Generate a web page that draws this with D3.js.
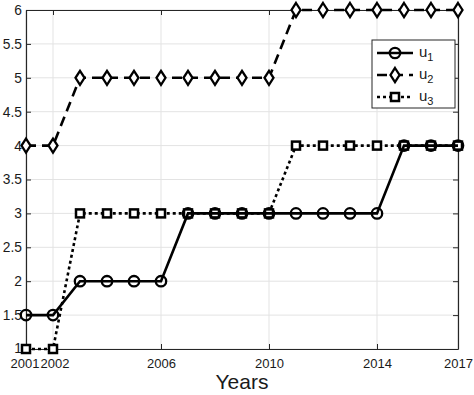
<!DOCTYPE html>
<html><head><meta charset="utf-8">
<script src="https://cdn.jsdelivr.net/npm/d3@7"></script>
<style>body{margin:0;background:#fff}svg{display:block}text{font-family:"Liberation Sans",Arial,sans-serif}</style>
</head><body>
<svg id="c" width="474" height="395"></svg>
<script>
const years = d3.range(2001, 2018);
const u1 = [1.5,1.5,2,2,2,2,3,3,3,3,3,3,3,3,4,4,4];
const u2 = [4,4,5,5,5,5,5,5,5,5,6,6,6,6,6,6,6];
const u3 = [1,1,3,3,3,3,3,3,3,3,4,4,4,4,4,4,4];
const xTicks = [2001,2002,2006,2010,2014,2017];
const yTicks = [1,1.5,2,2.5,3,3.5,4,4.5,5,5.5,6];
const seriesNames = ["u1","u2","u3"];

const svg = d3.select("#c");
const L=26,R=458,T=10,B=349;
const x = d3.scaleLinear().domain([2001,2017]).range([L,R]);
const y = d3.scaleLinear().domain([1,6]).range([B,T]);

// grid
const g = svg.append("g");
g.selectAll(".gx").data(xTicks).join("line").attr("x1",d=>x(d)).attr("x2",d=>x(d)).attr("y1",T).attr("y2",B).attr("stroke","#e3e3e3").attr("stroke-width",1);
g.selectAll(".gy").data(yTicks).join("line").attr("y1",d=>y(d)).attr("y2",d=>y(d)).attr("x1",L).attr("x2",R).attr("stroke","#e3e3e3").attr("stroke-width",1);

// axes
const fmtY = d=>String(d);
const ax = svg.append("g").attr("transform",`translate(0,${B})`).call(d3.axisBottom(x).tickValues(xTicks).tickFormat(d3.format("d")).tickSizeInner(-5).tickSizeOuter(0).tickPadding(10));
const axT = svg.append("g").attr("transform",`translate(0,${T})`).call(d3.axisTop(x).tickValues(xTicks).tickFormat("").tickSizeInner(-5).tickSizeOuter(0));
const ay = svg.append("g").attr("transform",`translate(${L},0)`).call(d3.axisLeft(y).tickValues(yTicks).tickFormat(fmtY).tickSizeInner(-5).tickSizeOuter(0).tickPadding(4));
const ayR = svg.append("g").attr("transform",`translate(${R},0)`).call(d3.axisRight(y).tickValues(yTicks).tickFormat("").tickSizeInner(-5).tickSizeOuter(0));
[ax,axT,ay,ayR].forEach(a=>{a.select(".domain").attr("stroke","#262626").attr("stroke-width",1.2);a.selectAll(".tick line").attr("stroke","#262626");a.selectAll("text").attr("fill","#1a1a1a").style("font-size","13.8px");});
ax.selectAll("text").style("font-size","13px").attr("dx",d=>d===2001?-1.5:(d===2002?1.5:0));
ay.selectAll("text").filter(d=>d===1).attr("dy","0.25em");

svg.append("text").attr("x",(L+R)/2).attr("y",389).attr("text-anchor","middle").style("font-size","21px").attr("fill","#1a1a1a").text("Years");

const data = [
  {name:"u1",vals:u1,dash:null,marker:"circle"},
  {name:"u2",vals:u2,dash:"10,6",marker:"diamond"},
  {name:"u3",vals:u3,dash:"3,3",marker:"square"}
];
const line = d3.line().x((d,i)=>x(years[i])).y(d=>y(d));
function drawMarker(sel,type,cx,cy){
  if(type==="circle") sel.append("circle").attr("cx",cx).attr("cy",cy).attr("r",5.2).attr("fill","none").attr("stroke","#000").attr("stroke-width",2.3);
  else if(type==="diamond") sel.append("path").attr("d",`M${cx},${cy-7}L${cx+4.5},${cy}L${cx},${cy+7}L${cx-4.5},${cy}Z`).attr("fill","#fff").attr("stroke","#000").attr("stroke-width",2.3);
  else sel.append("rect").attr("x",cx-4).attr("y",cy-4).attr("width",8).attr("height",8).attr("fill","#fff").attr("stroke","#000").attr("stroke-width",2.5);
}
const order=[2,1,0];
order.forEach(k=>{
  const s=data[k];
  const gg=svg.append("g");
  gg.append("path").attr("d",line(s.vals)).attr("fill","none").attr("stroke","#000").attr("stroke-width",2.6).attr("stroke-dasharray",s.dash);
  s.vals.forEach((v,i)=>drawMarker(gg,s.marker,x(years[i]),y(v)));
});

// legend
const lg=svg.append("g");
lg.append("rect").attr("x",372).attr("y",40).attr("width",83).attr("height",68).attr("fill","#fff").attr("stroke","#262626").attr("stroke-width",1);
data.forEach((s,i)=>{
  const ly=53+i*22;
  lg.append("line").attr("x1",377).attr("x2",413).attr("y1",ly).attr("y2",ly).attr("stroke","#000").attr("stroke-width",2.6).attr("stroke-dasharray",s.dash);
  drawMarker(lg,s.marker,395,ly);
  const t=lg.append("text").attr("x",419).attr("y",ly+4).style("font-size","15px").attr("fill","#1a1a1a");
  t.append("tspan").text("u");
  t.append("tspan").attr("dy",4).style("font-size","11px").text(s.name.slice(1));
});
</script>
</body></html>
